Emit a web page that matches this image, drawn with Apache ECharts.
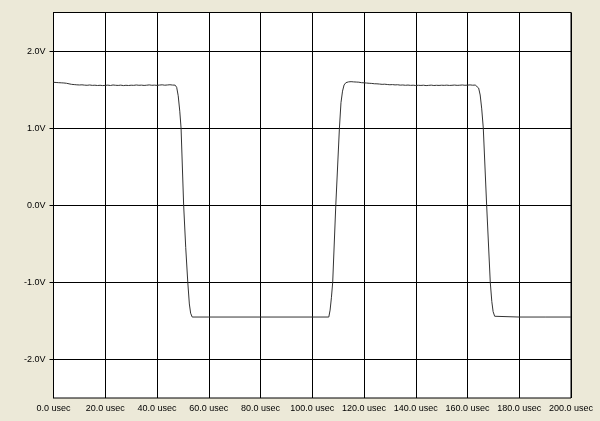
<!DOCTYPE html>
<html>
<head>
<meta charset="utf-8">
<script src="https://cdn.jsdelivr.net/npm/echarts@6/dist/echarts.min.js"></script>
<style>
html,body{margin:0;padding:0;background:#ECE9D8;}
#chart{width:600px;height:421px;}
</style>
</head>
<body>
<div id="chart"></div>
<script>
// Time values in usec
var times = [
  0,1,2,3,4,5,6,7,8,9,10,11,12,13,14,15,16,17,18,19,20,21,22,23,24,25,26,27,28,29,30,31,32,33,34,35,36,37,38,39,40,41,42,43,44,45,46,47,
  47.6,48.2,48.8,49.3,50.3,51.1,51.9,52.5,53.0,53.6,
  60,80,100,106.4,
  106.9,107.4,107.9,109.1,110.5,111.1,111.7,112.3,113.0,114.0,
  115,116,117,118,119,120,121,122,123,124,125,126,127,128,129,130,131,132,133,134,135,136,137,138,139,140,141,142,143,144,145,146,147,148,149,150,151,152,153,154,155,156,157,158,159,160,161,162,163,163.7,
  164.3,164.9,165.5,166.1,167.4,168.8,169.4,169.9,170.5,171.1,
  180,190,200
];
// Voltage values in V
var volts = [
  1.595,1.592,1.590,1.588,1.586,1.582,1.575,1.568,1.565,1.562,1.560,1.562,1.558,1.556,1.560,1.555,1.557,1.553,1.556,1.552,1.555,1.558,1.553,1.560,1.556,1.554,1.558,1.552,1.556,1.553,1.557,1.555,1.560,1.556,1.558,1.554,1.557,1.561,1.556,1.558,1.555,1.559,1.562,1.557,1.560,1.563,1.559,1.558,
  1.53,1.42,1.22,1.0,0.0,-0.55,-1.0,-1.28,-1.40,-1.45,
  -1.45,-1.45,-1.45,-1.45,
  -1.36,-1.2,-1.0,0.0,1.0,1.33,1.48,1.56,1.59,1.60,
  1.603,1.600,1.598,1.596,1.590,1.588,1.585,1.582,1.580,1.576,1.575,1.572,1.568,1.570,1.566,1.563,1.565,1.561,1.563,1.558,1.560,1.556,1.559,1.555,1.557,1.553,1.556,1.554,1.557,1.552,1.555,1.558,1.553,1.556,1.554,1.557,1.555,1.558,1.554,1.556,1.559,1.555,1.557,1.560,1.556,1.558,1.561,1.557,1.559,1.555,
  1.52,1.43,1.25,1.0,0.0,-1.0,-1.25,-1.38,-1.44,-1.45,
  -1.45,-1.45,-1.45
];
var yTicks = [-2, -1, 0, 1, 2];

var data = times.map(function (t, i) { return [t, volts[i]]; });

var chart = echarts.init(document.getElementById('chart'));
var font = 'Liberation Sans';
chart.setOption({
  backgroundColor: '#ECE9D8',
  animation: false,
  grid: {
    left: 53.5, right: 29, top: 12.5, bottom: 23,
    show: true, backgroundColor: '#ffffff', borderColor: '#000000', borderWidth: 1
  },
  xAxis: {
    type: 'value', min: 0, max: 200, interval: 20,
    axisLine: { show: true, lineStyle: { color: '#000', width: 1 } },
    axisTick: { show: true, length: 4, lineStyle: { color: '#000' } },
    splitLine: { show: true, lineStyle: { color: '#000', width: 1 } },
    axisLabel: {
      color: '#000', fontFamily: font, fontSize: 9, margin: 6,
      formatter: function (v) { return v.toFixed(1) + ' usec'; }
    }
  },
  yAxis: {
    type: 'value', min: -2.5, max: 2.5,
    axisLine: { show: true, lineStyle: { color: '#000', width: 1 } },
    axisTick: { show: true, length: 4, customValues: yTicks, lineStyle: { color: '#000' } },
    splitLine: { show: true, lineStyle: { color: '#000', width: 1 } },
    axisLabel: {
      color: '#000', fontFamily: font, fontSize: 9, margin: 8, customValues: yTicks,
      formatter: function (v) { return v.toFixed(1) + 'V'; }
    }
  },
  series: [{
    type: 'line', data: data, showSymbol: false, symbol: 'none',
    lineStyle: { color: '#333333', width: 1 }
  }]
});
</script>
</body>
</html>
